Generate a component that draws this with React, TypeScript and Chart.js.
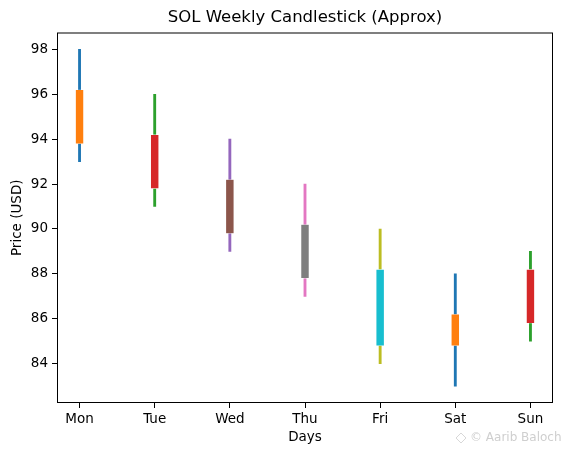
import React, { useEffect, useRef } from "react";
import { Chart, registerables } from "chart.js";

Chart.register(...registerables);

const days = ["Mon", "Tue", "Wed", "Thu", "Fri", "Sat", "Sun"];
const lows = [93, 91, 89, 87, 84, 83, 85];
const highs = [98, 96, 94, 92, 90, 88, 89];
const bodyLows = [93.8, 91.8, 89.8, 87.8, 84.8, 84.8, 85.8];
const bodyHighs = [96.2, 94.2, 92.2, 90.2, 88.2, 86.2, 88.2];
const wickColors = ["#1f77b4", "#2ca02c", "#9467bd", "#e377c2", "#bcbd22", "#1f77b4", "#2ca02c"];
const bodyColors = ["#ff7f0e", "#d62728", "#8c564b", "#7f7f7f", "#17becf", "#ff7f0e", "#d62728"];
const yTicks = [84, 86, 88, 90, 92, 94, 96, 98];

const FONT = "'DejaVu Sans', sans-serif";

const frame = {
  id: "frame",
  afterDraw(chart: any) {
    const { ctx, chartArea: a } = chart;
    ctx.save();
    ctx.strokeStyle = "#000";
    ctx.lineWidth = 1;
    ctx.strokeRect(a.left + 0.5, a.top + 0.5, a.right - a.left - 1, a.bottom - a.top - 1);
    ctx.fillStyle = "#000";
    ctx.textAlign = "center";
    ctx.textBaseline = "middle";
    ctx.font = `16.5px ${FONT}`;
    ctx.fillText("SOL Weekly Candlestick (Approx)", (a.left + a.right) / 2, 18);
    ctx.font = `13.5px ${FONT}`;
    ctx.fillText("Days", (a.left + a.right) / 2, 437);
    ctx.save();
    ctx.translate(17, (a.top + a.bottom) / 2);
    ctx.rotate(-Math.PI / 2);
    ctx.fillText("Price (USD)", 0, 0);
    ctx.restore();
    ctx.fillStyle = "#cfcfcf";
    ctx.textAlign = "left";
    ctx.font = `12px ${FONT}`;
    ctx.fillText("\u00a9 Aarib Baloch", 470, 438);
    ctx.strokeStyle = "#d8d8d8";
    ctx.beginPath();
    ctx.moveTo(461, 433); ctx.lineTo(466, 438); ctx.lineTo(461, 443); ctx.lineTo(456, 438); ctx.closePath();
    ctx.stroke();
    ctx.restore();
  },
};

export default function App() {
  const ref = useRef<HTMLCanvasElement>(null);
  useEffect(() => {
    document.body.style.margin = "0";
    const chart = new Chart(ref.current!, {
      type: "bar",
      data: {
        datasets: [
          {
            label: "Body",
            data: days.map((_, i) => ({ x: i, y: [bodyLows[i], bodyHighs[i]] })) as any,
            backgroundColor: bodyColors,
            borderColor: "rgba(255,255,255,0.7)",
            borderWidth: 0.6,
            borderSkipped: false,
            barThickness: 8,
            grouped: false,
            order: 0,
          },
          {
            label: "Wick",
            data: days.map((_, i) => ({ x: i, y: [lows[i], highs[i]] })) as any,
            backgroundColor: wickColors,
            borderWidth: 0,
            barThickness: 2.2,
            grouped: false,
            order: 1,
          },
        ],
      },
      options: {
        animation: false,
        responsive: false,
        layout: { padding: { top: 32.5, right: 10, left: 0, bottom: 0 } },
        plugins: { legend: { display: false }, tooltip: { enabled: false }, title: { display: false } },
        scales: {
          x: {
            type: "linear",
            min: -0.3,
            max: 6.3,
            offset: false,
            afterBuildTicks: (s: any) => { s.ticks = days.map((_, i) => ({ value: i })); },
            afterFit: (s: any) => { s.height = 52; },
            ticks: {
              callback: (v: any) => days[v] ?? "",
              color: "#000",
              font: { family: FONT, size: 13.5 },
              padding: 3,
              maxRotation: 0,
              autoSkip: false,
            },
            grid: { display: true, offset: false, drawOnChartArea: false, drawTicks: true, tickLength: 5, color: "#000" },
            border: { display: false },
          },
          y: {
            min: 82.25,
            max: 98.75,
            afterBuildTicks: (s: any) => { s.ticks = yTicks.map((v) => ({ value: v })); },
            afterFit: (s: any) => { s.width = 57; },
            ticks: { color: "#000", font: { family: FONT, size: 13.5 }, padding: 4 },
            grid: { display: true, offset: false, drawOnChartArea: false, drawTicks: true, tickLength: 5, color: "#000" },
            border: { display: false },
          },
        },
      },
      plugins: [frame],
    });
    return () => chart.destroy();
  }, []);
  return (
    <div style={{ position: "absolute", left: 0, top: 0, width: 563, height: 455, background: "#fff" }}>
      <canvas ref={ref} width={563} height={455} style={{ width: 563, height: 455 }} />
    </div>
  );
}
